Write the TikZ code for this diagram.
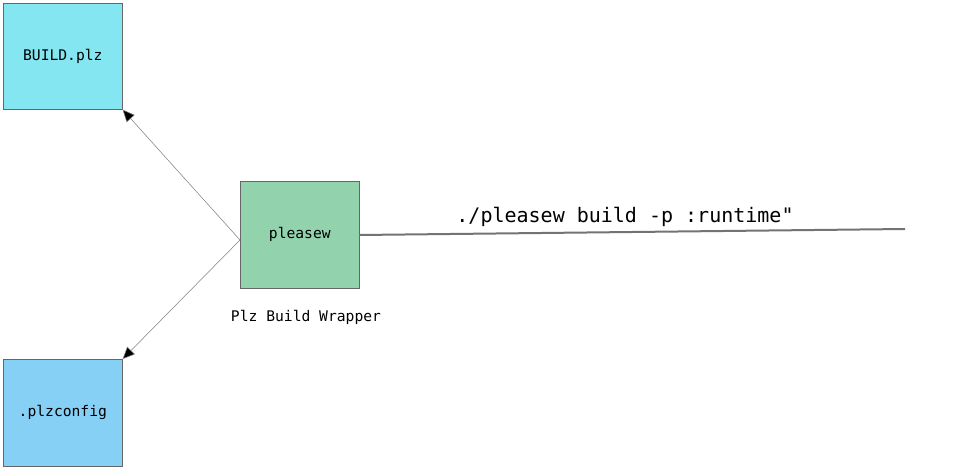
\documentclass[tikz,border=0pt]{standalone}
\usepackage{fontspec}
\setmonofont{DejaVu Sans Mono}
\usetikzlibrary{arrows.meta}
\definecolor{cyanbox}{HTML}{84E6F0}
\definecolor{greenbox}{HTML}{92D3AE}
\definecolor{bluebox}{HTML}{86D0F5}
\tikzset{box/.style={draw=black!60,line width=0.5pt,anchor=north west,inner sep=0pt,font=\ttfamily\fontsize{11}{13}\selectfont},
arr/.style={draw=black!50,line width=0.4pt,-{Triangle[length=9pt,width=8pt,fill=black]}}}
\begin{document}
\begin{tikzpicture}[x=0.75pt,y=-0.75pt]
\useasboundingbox (0,0) rectangle (963,468);
\node[box,fill=cyanbox,minimum width=119*0.75pt,minimum height=106*0.75pt] (build) at (3,3) {BUILD.plz};
\node[box,fill=greenbox,minimum width=119*0.75pt,minimum height=107*0.75pt] (pw) at (240,181) {pleasew};
\node[box,fill=bluebox,minimum width=119*0.75pt,minimum height=107*0.75pt] (cfg) at (3,359) {.plzconfig};
\node[font=\ttfamily\fontsize{11}{13}\selectfont] (lbl) at (306,317) {Plz Build Wrapper};
\coordinate (end) at (905,229);
\coordinate (src) at (240,240);
\draw[draw=black!55,line width=1.5pt] (359,235) -- (end);
\node[font=\ttfamily\fontsize{15}{18}\selectfont] (cmd) at (625,217) {./pleasew build -p :runtime"};
\draw[arr] (src) -- (build.south east);
\draw[arr] (src) -- (cfg.north east);
\end{tikzpicture}
\end{document}
